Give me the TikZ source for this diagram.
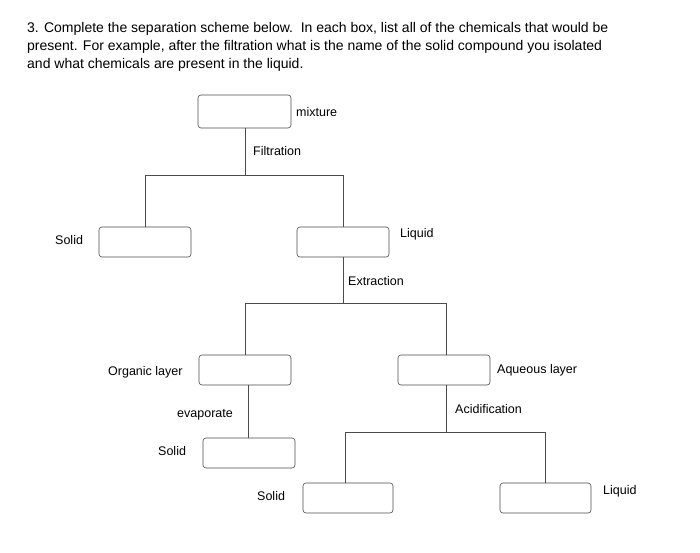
\documentclass[tikz,border=0pt]{standalone}
\usepackage{fontspec}
\setmainfont{Liberation Sans}
\begin{document}
\begin{tikzpicture}[x=1pt,y=-1pt,
  bx/.style={draw=black!70,line width=0.6pt,rounded corners=3pt},
  ln/.style={draw=black!70,line width=0.6pt},
  lab/.style={anchor=west,inner sep=0pt,font=\fontsize{12.5}{14}\selectfont}]
\useasboundingbox[fill=white] (0,0) rectangle (700,553);
\node[anchor=north west,inner sep=0pt,align=left,font=\fontsize{14}{18}\selectfont] (q) at (27,22)
{3. Complete the separation scheme below.\ \ In each box, list all of the chemicals that would be\\
present. For example, after the filtration what is the name of the solid compound you isolated\\
and what chemicals are present in the liquid.};
\path[bx] (198,95) rectangle (291,128) coordinate (b1);
\node[lab] (l1) at (296,112) {mixture};
\coordinate (b1s) at (245,128);
\coordinate (j1) at (245,175);
\node[lab] (f) at (253,151) {Filtration};
\coordinate (j1l) at (145,175); \coordinate (j1r) at (343,175);
\path[bx] (99,227) rectangle (191,257);
\coordinate (b2n) at (145,227);
\node[lab] at (55,240) {Solid};
\path[bx] (297,227) rectangle (389,257);
\coordinate (b3n) at (343,227); \coordinate (b3s) at (343,257);
\node[lab] at (400,234) {Liquid};
\draw[ln] (b1s)--(j1) (j1l)--(j1r) (j1l)--(b2n) (j1r)--(b3n);
\coordinate (j2) at (343,303); \coordinate (j2l) at (245,303); \coordinate (j2r) at (446,303);
\node[lab] at (348,281) {Extraction};
\path[bx] (199,355) rectangle (291,385);
\coordinate (b4n) at (245,355); \coordinate (b4s) at (248,385);
\node[lab] at (108,372) {Organic layer};
\path[bx] (398,355) rectangle (490,385);
\coordinate (b5n) at (446,355); \coordinate (b5s) at (446,385);
\node[lab] at (497,370) {Aqueous layer};
\draw[ln] (b3s)--(j2) (j2l)--(j2r) (j2l)--(b4n) (j2r)--(b5n);
\node[lab] at (177,415) {evaporate};
\path[bx] (203,438) rectangle (295,468);
\coordinate (b6n) at (248,438);
\node[lab] at (158,451) {Solid};
\draw[ln] (b4s)--(b6n);
\node[lab] at (455,409) {Acidification};
\coordinate (j3) at (446,432); \coordinate (j3l) at (345,432); \coordinate (j3r) at (545,432);
\path[bx] (303,483) rectangle (393,513);
\coordinate (b7n) at (345,483);
\node[lab] at (257,496) {Solid};
\path[bx] (500,483) rectangle (591,513);
\coordinate (b8n) at (545,483);
\node[lab] at (603,491) {Liquid};
\draw[ln] (b5s)--(j3) (j3l)--(j3r) (j3l)--(b7n) (j3r)--(b8n);
\end{tikzpicture}
\end{document}
